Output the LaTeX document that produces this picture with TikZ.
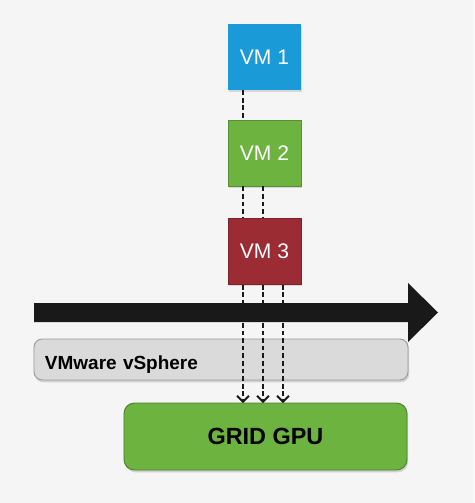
\documentclass[tikz,border=0pt]{standalone}
\usepackage{fontspec}
\setmainfont{Liberation Sans}
\usepackage{xcolor}
\usetikzlibrary{arrows.meta,shadows}
\definecolor{vm-blue}{RGB}{26,154,214}
\definecolor{vm-green}{RGB}{109,179,63}
\definecolor{vm-red}{RGB}{156,44,52}
\definecolor{page-gray}{RGB}{245,245,245}
\definecolor{host-gray}{RGB}{218,218,218}
\definecolor{gpu-line}{RGB}{78,130,46}
\tikzstyle{vmbox}=[minimum width=2.19cm, minimum height=1.98cm, inner sep=0pt, text=white, font=\fontsize{18}{20}\selectfont, drop shadow={shadow xshift=.5pt, shadow yshift=-1.5pt, opacity=.25}]
\tikzstyle{hostbox}=[rounded corners=7pt, fill=host-gray, draw=gray!80, line width=.8pt, drop shadow={shadow xshift=1pt, shadow yshift=-2pt, opacity=.3}]
\tikzstyle{link}=[dash pattern=on 4pt off 2.5pt, line width=2pt, black!90]
\tikzstyle{tolink}=[link, -{Straight Barb[length=5pt, width=10pt, line width=1.6pt]}]

\begin{document}
\begin{tikzpicture}[x=0.03cm, y=-0.03cm]
	\fill[page-gray] (0,0) rectangle (474,503);
	\useasboundingbox (0,0) rectangle (474,503);
	% the three machines
	\node[vmbox, fill=vm-blue] (vmone) at (264.5,57) {VM 1};
	\node[vmbox, fill=vm-green, draw=vm-green!80!black, line width=.6pt] (vmtwo) at (264.5,153) {VM 2};
	\node[vmbox, fill=vm-red, draw=vm-red!80!black, line width=.6pt] (vmthree) at (264.5,251.5) {VM 3};
	% time arrow
	\fill[black!90] (34,303) -- (408,303) -- (408,283) -- (438,312.5) -- (408,342) -- (408,322) -- (34,322) -- cycle;
	% hypervisor and gpu
	\node[hostbox, minimum width=11.22cm, minimum height=1.23cm, inner xsep=.33cm, text width=10.56cm, align=left, text height=17.9pt, text depth=0pt, font=\fontsize{16.2}{18}\selectfont\bfseries] (vsphere) at (221,359.5) {VMware vSphere};
	\node[hostbox, rounded corners=9pt, fill=vm-green, draw=gpu-line, minimum width=8.49cm, minimum height=2.01cm, font=\fontsize{20}{24}\selectfont\bfseries] (gpu) at (265.5,436.5) {GRID GPU};
	\coordinate (ga) at (243,403);
	\coordinate (gb) at (263,403);
	\coordinate (gc) at (283,403);
	% dashed links
	\draw[link] (vmone.south -| ga) -- (vmtwo.north -| ga);
	\draw[link] (vmtwo.south -| ga) -- (vmthree.north -| ga);
	\draw[link] (vmtwo.south -| gb) -- (vmthree.north -| gb);
	\draw[tolink] (vmthree.south -| ga) -- (ga);
	\draw[tolink] (vmthree.south -| gb) -- (gb);
	\draw[tolink] (vmthree.south -| gc) -- (gc);
\end{tikzpicture}
\end{document}
